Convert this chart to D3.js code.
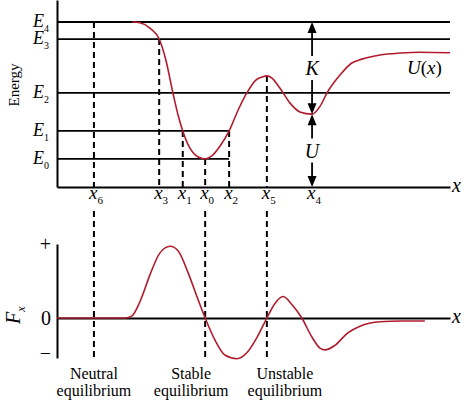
<!DOCTYPE html>
<html>
<head>
<meta charset="utf-8">
<script src="https://cdn.jsdelivr.net/npm/d3@7"></script>
<style>
body { margin: 0; background: #fff; }
svg text { font-family: "Liberation Serif", "Tinos", "DejaVu Serif", serif; fill: #000; }
</style>
</head>
<body>
<svg id="chart" width="468" height="402"></svg>
<script>
// energy levels E0..E4 (energy units) and where each line stops along x
var levelNames = ["0", "1", "2", "3", "4"];
var levelValues = [1.02, 2.04, 3.42, 5.38, 6.0];
var levelEnds = [43.8, 43.8, 100, 100, 100];

// marked positions on the x axis and the energy where each dashed line starts
var markNames = ["6", "3", "1", "0", "2", "5", "4"];
var markX = [9.4, 26, 32, 37.7, 43.8, 53.4, 64.9];
var markTop = [6.0, 5.38, 2.04, 1.02, 2.04, 4.04, null];

// equilibrium points carried down into the force panel
var eqNames = ["Neutral", "Stable", "Unstable"];
var eqX = [9.4, 37.7, 53.4];

// potential energy curve U(x)
var uX = [19.1, 21.1, 23.7, 26, 27.7, 29.5, 30.8, 32, 33.8, 35.9, 37.7, 39.4, 41.5, 43.8,
          46.1, 48.3, 50.6, 52.2, 53.4, 54.7, 56.7, 59.3, 61.8, 64.9, 67, 68.7, 72, 75,
          77.6, 82.2, 87.3, 92.4, 100];
var uY = [6.0, 5.97, 5.77, 5.38, 4.62, 3.42, 2.62, 2.04, 1.42, 1.09, 1.02, 1.13, 1.49, 2.04,
          2.8, 3.42, 3.89, 4.0, 4.04, 3.96, 3.6, 3.05, 2.73, 2.65, 2.95, 3.42, 4.07, 4.51,
          4.65, 4.8, 4.87, 4.9, 4.88];

// force curve F_x
var fX = [0, 17.3, 19.1, 21.1, 23.7, 26.2, 28.8, 30.8, 33.3, 35.6, 37.7, 40.2, 42.7, 45.8,
          48.3, 50.9, 53.4, 55.5, 57.5, 59.8, 62.3, 64.9, 67, 68.2, 70.7, 74, 77.1, 82.2,
          87.3, 93.6];
var fY = [0, 0, 0.03, 0.22, 0.59, 0.88, 0.97, 0.91, 0.62, 0.29, 0, -0.3, -0.5, -0.55,
          -0.47, -0.26, 0, 0.2, 0.29, 0.18, 0, -0.26, -0.41, -0.43, -0.37, -0.2, -0.11, -0.05,
          -0.04, -0.04];

var fTicks = [1, 0, -0.48];
var fTickText = ["+", "0", "\u2212"];

var svg = d3.select("#chart");
var red = "#b01c2e";
var serif = "'Liberation Serif', Tinos, 'DejaVu Serif', serif";

var x = d3.scaleLinear().domain([0, 100]).range([57, 450]);
var yE = d3.scaleLinear().domain([0, 6.8]).range([187, 0]);
var yF = d3.scaleLinear().domain([-0.54, 1]).range([358, 244]);

function uAt(v) {
    var i = uX.indexOf(v);
    return uY[i];
}

////////////////////////////////////////////////////////////////////////
// top panel: energy

svg.append("g")
    .attr("transform", "translate(" + x(0) + ",0)")
    .call(d3.axisLeft(yE).tickValues([]).tickSizeOuter(0))
    .select(".domain").attr("stroke-width", 2);

svg.append("g")
    .attr("transform", "translate(0," + yE(0) + ")")
    .call(d3.axisBottom(x).tickValues([]).tickSizeOuter(0))
    .select(".domain").attr("stroke-width", 2);

svg.selectAll(".level")
    .data(levelValues)
    .enter().append("line")
    .attr("class", "level")
    .attr("x1", x(0))
    .attr("x2", function(d, i) { return x(levelEnds[i]); })
    .attr("y1", function(d) { return yE(d); })
    .attr("y2", function(d) { return yE(d); })
    .attr("stroke", "#000")
    .attr("stroke-width", 1.8);

var eLab = svg.selectAll(".elab")
    .data(levelValues)
    .enter().append("text")
    .attr("class", "elab")
    .attr("x", 33)
    .attr("y", function(d) { return yE(d) + 5; })
    .style("font-size", "18px");
eLab.append("tspan").style("font-style", "italic").text("E");
eLab.append("tspan")
    .attr("dy", 5)
    .style("font-size", "10px")
    .text(function(d, i) { return levelNames[i]; });

svg.append("text")
    .attr("transform", "translate(19,85) rotate(-90)")
    .attr("text-anchor", "middle")
    .style("font-size", "15px")
    .text("Energy");

// dashed drop lines
var dash = "6,4";
svg.selectAll(".drop")
    .data(markX.filter(function(d, i) { return markTop[i] !== null; }))
    .enter().append("line")
    .attr("x1", function(d) { return x(d); })
    .attr("x2", function(d) { return x(d); })
    .attr("y1", function(d) { return yE(markTop[markX.indexOf(d)]); })
    .attr("y2", yE(0))
    .attr("stroke", "#000")
    .attr("stroke-width", 2)
    .attr("stroke-dasharray", dash);

var mLab = svg.selectAll(".mlab")
    .data(markX)
    .enter().append("text")
    .attr("class", "mlab")
    .attr("x", function(d) { return x(d) - 5; })
    .attr("y", 199)
    .style("font-size", "19px");
mLab.append("tspan").style("font-style", "italic").text("x");
mLab.append("tspan")
    .attr("dy", 5)
    .style("font-size", "11px")
    .text(function(d, i) { return markNames[i]; });

svg.append("text")
    .attr("x", 452)
    .attr("y", 192)
    .style("font-size", "20px")
    .style("font-style", "italic")
    .text("x");

// the U(x) curve
var uLine = d3.line()
    .x(function(d) { return x(d[0]); })
    .y(function(d) { return yE(d[1]); })
    .curve(d3.curveMonotoneX);

svg.append("path")
    .datum(d3.zip(uX, uY))
    .attr("d", uLine)
    .attr("fill", "none")
    .attr("stroke", red)
    .attr("stroke-width", 1.6);

var uLab = svg.append("text")
    .attr("x", 407)
    .attr("y", 74)
    .style("font-size", "19px");
uLab.append("tspan").style("font-style", "italic").text("U");
uLab.append("tspan").text("(");
uLab.append("tspan").style("font-style", "italic").text("x");
uLab.append("tspan").text(")");

// K and U arrows at x4
var x4 = markX[6];
var u4 = uAt(x4);
var ax = x(x4);

function arrowHead(yTip, dir) {
    var len = 11, half = 4.5;
    svg.append("path")
        .attr("d", "M" + ax + "," + yTip +
                   "L" + (ax - half) + "," + (yTip + dir * len) +
                   "L" + (ax + half) + "," + (yTip + dir * len) + "Z")
        .attr("fill", "#000");
}

function splitArrow(yTop, yBot, label) {
    var mid = (yTop + yBot) / 2, gap = 12;
    svg.append("line").attr("x1", ax).attr("x2", ax)
        .attr("y1", yTop + 4).attr("y2", mid - gap)
        .attr("stroke", "#000").attr("stroke-width", 1.8);
    svg.append("line").attr("x1", ax).attr("x2", ax)
        .attr("y1", mid + gap).attr("y2", yBot - 4)
        .attr("stroke", "#000").attr("stroke-width", 1.8);
    arrowHead(yTop, 1);
    arrowHead(yBot, -1);
    svg.append("text")
        .attr("x", ax)
        .attr("y", mid + 7)
        .attr("text-anchor", "middle")
        .style("font-size", "20px")
        .style("font-style", "italic")
        .text(label);
}

splitArrow(yE(levelValues[4]), yE(u4), "K");
splitArrow(yE(u4), yE(0), "U");

////////////////////////////////////////////////////////////////////////
// bottom panel: force

svg.append("g")
    .attr("transform", "translate(" + x(0) + ",0)")
    .call(d3.axisLeft(yF).tickValues(fTicks).tickSize(0).tickSizeOuter(0).tickPadding(6)
        .tickFormat(function(d, i) { return fTickText[i]; }))
    .call(function(g) {
        g.attr("font-family", null);
        g.select(".domain").attr("stroke-width", 2);
        g.selectAll("text")
            .style("font-family", serif)
            .style("font-size", "20px");
    });

svg.append("g")
    .attr("transform", "translate(0," + yF(0) + ")")
    .call(d3.axisBottom(x).tickValues([]).tickSizeOuter(0))
    .select(".domain").attr("stroke-width", 2);

svg.append("text")
    .attr("x", 452)
    .attr("y", yF(0) + 5)
    .style("font-size", "20px")
    .style("font-style", "italic")
    .text("x");

var fLab = svg.append("text")
    .attr("transform", "translate(20," + (yF(0) + 6) + ") rotate(-90)")
    .style("font-size", "20px");
fLab.append("tspan").style("font-style", "italic").text("F");
fLab.append("tspan")
    .attr("dy", 5)
    .style("font-size", "12px")
    .style("font-style", "italic")
    .text("x");

// dashed lines carried down from the equilibria
svg.selectAll(".eqdrop")
    .data(eqX)
    .enter().append("line")
    .attr("x1", function(d) { return x(d); })
    .attr("x2", function(d) { return x(d); })
    .attr("y1", 211)
    .attr("y2", yF(-0.54))
    .attr("stroke", "#000")
    .attr("stroke-width", 2)
    .attr("stroke-dasharray", dash);

var eqShift = [0, -14, 18];
var eqLab = svg.selectAll(".eqlab")
    .data(eqX)
    .enter().append("text")
    .attr("text-anchor", "middle")
    .attr("x", function(d, i) { return x(d) + eqShift[i]; })
    .attr("y", 379)
    .style("font-size", "16px");
eqLab.append("tspan").text(function(d, i) { return eqNames[i]; });
eqLab.append("tspan")
    .attr("x", function(d, i) { return x(d) + eqShift[i]; })
    .attr("dy", 17)
    .text("equilibrium");

var fLine = d3.line()
    .x(function(d) { return x(d[0]); })
    .y(function(d) { return yF(d[1]); })
    .curve(d3.curveMonotoneX);

svg.append("path")
    .datum(d3.zip(fX, fY))
    .attr("d", fLine)
    .attr("fill", "none")
    .attr("stroke", red)
    .attr("stroke-width", 1.6);
</script>
</body>
</html>
